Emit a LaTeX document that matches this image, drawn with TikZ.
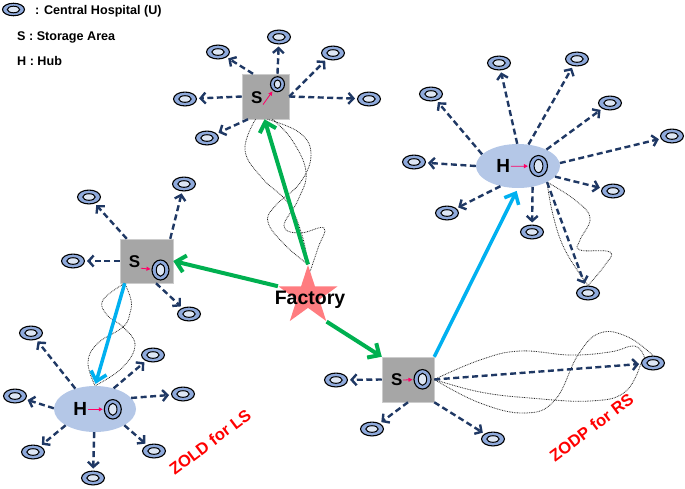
\documentclass[tikz,border=0pt]{standalone}
\usepackage{fontspec}
\setmainfont{Liberation Sans}
\usetikzlibrary{arrows.meta,shapes.geometric}
\definecolor{navy}{HTML}{1F3864}
\definecolor{hospc}{HTML}{8FAADC}
\definecolor{hospin}{HTML}{DDE6F4}
\definecolor{hubfill}{HTML}{B4C7E7}
\definecolor{boxgray}{HTML}{A6A6A6}
\definecolor{grn}{HTML}{00B050}
\definecolor{cyn}{HTML}{00B0F0}
\definecolor{pnk}{HTML}{FF0066}
\definecolor{starc}{HTML}{FF7C80}
\begin{document}
\begin{tikzpicture}[x=1pt,y=-1pt,
 hosp/.style={ellipse, draw=black, line width=1.1pt, fill=hospc, minimum width=22.9pt, minimum height=13.9pt, inner sep=0pt,
   path picture={\draw[line width=1pt, fill=hospin] (path picture bounding box.center) ellipse [x radius=6.2pt, y radius=3.3pt];}},
 uicon/.style 2 args={ellipse, draw=black, line width=1.1pt, fill=hospc, inner sep=0pt,
   path picture={\draw[line width=1pt, fill=hospin] (path picture bounding box.center) ellipse [x radius=#1, y radius=#2];}},
 sbox/.style={rectangle, fill=boxgray, draw=black!20, line width=0.5pt, inner sep=0pt},
 hub/.style={ellipse, fill=hubfill, inner sep=0pt},
 darr/.style={navy, line width=2.4pt, dash pattern=on 6pt off 3.5pt, -{Straight Barb[length=5pt,width=11pt]}, shorten >=2pt},
 garr/.style={grn, line width=4pt, -{Straight Barb[length=9pt,width=17pt]}},
 carr/.style={cyn, line width=3.5pt, -{Straight Barb[length=9pt,width=16pt]}},
 parr/.style={pnk, line width=0.8pt, -{Triangle[length=4pt,width=4pt]}, shorten >=1pt},
 dotc/.style={black!85, line width=0.8pt, dash pattern=on 0.8pt off 0.9pt},
 slbl/.style={font=\bfseries\fontsize{17}{19}\selectfont, inner sep=0.5pt},
 hlbl/.style={font=\bfseries\fontsize{19}{21}\selectfont, inner sep=0.5pt},
 legend/.style={font=\bfseries\fontsize{12.6}{15}\selectfont, inner sep=0pt},
 zone/.style={font=\bfseries\fontsize{16.5}{19}\selectfont, text=red, rotate=37},
]
\useasboundingbox (0,0) rectangle (685,488);

% legend
\node[hosp, minimum width=22pt, minimum height=12.5pt] (leg) at (13.5,9.5) {};
\node[legend, anchor=base west] (legU) at (35,14) {: Central Hospital (U)};
\node[legend, anchor=base west] (legS) at (17,40.5) {S : Storage Area};
\node[legend, anchor=base west] (legH) at (17,65.5) {H : Hub};

% main nodes
\node[sbox, minimum width=47pt, minimum height=45pt] (ts) at (265.5,96.5) {};
\node[sbox, minimum width=53pt, minimum height=44pt] (ls) at (146.5,261) {};
\node[sbox, minimum width=52pt, minimum height=45pt] (rs) at (408,379.5) {};
\node[hub, minimum width=84pt, minimum height=44pt] (rh) at (518,166) {};
\node[hub, minimum width=82pt, minimum height=46pt] (bh) at (95,409) {};
\node[star, star points=5, star point ratio=2.618, fill=starc, minimum size=62pt, inner sep=0pt] (fac) at (308,296) {};

% icons inside
\node[uicon={3.3pt}{4.2pt}, minimum width=14pt, minimum height=15pt] (tsu) at (277.5,84.2) {};
\node[uicon={4.2pt}{6.2pt}, minimum width=17pt, minimum height=20pt] (lsu) at (160.5,270) {};
\node[uicon={4.2pt}{6pt}, minimum width=17pt, minimum height=19.5pt] (rsu) at (422.5,379.3) {};
\node[uicon={4.4pt}{6.6pt}, minimum width=18pt, minimum height=21pt] (rhu) at (538.5,166) {};
\node[uicon={4.2pt}{6pt}, minimum width=17pt, minimum height=19.5pt] (bhu) at (112.8,409.3) {};
\node[slbl] (tsS) at (256.7,97.8) {S};
\node[slbl] (lsS) at (134.5,261.5) {S};
\node[slbl] (rsS) at (396.7,380) {S};
\node[hlbl] (rhH) at (503.3,166.3) {H};
\node[hlbl] (bhH) at (80.3,409.3) {H};
\draw[parr] (tsS.south east) -- (tsu);
\draw[parr] (lsS.south east) -- (lsu);
\draw[parr] (rsS.east) -- (rsu);
\draw[parr] (rhH.east) -- (rhu);
\draw[parr] (bhH.east) -- (bhu);

% hospitals
\foreach \n/\p in {T1/{(279,37)},T2/{(218,52)},T3/{(333,53)},T4/{(185,99)},T5/{(369,99)},T6/{(207,138)},
 L1/{(89,197)},L2/{(184,184)},L3/{(73,261)},L4/{(189,314)},
 B1/{(31,333)},B2/{(153,355)},B3/{(15,396)},B4/{(183,394)},B5/{(33,452)},B6/{(93,478)},B7/{(154,451)},
 R1/{(499,63)},R2/{(577,59)},R3/{(431,94)},R4/{(610,103)},R5/{(672,136)},R6/{(414,162)},R7/{(613,191)},R8/{(447,213)},R9/{(532,232)},R10/{(588,293)},
 D1/{(336,380)},D2/{(372,429)},D3/{(493,439)},D4/{(653,363)}}
 \node[hosp] (\n) at \p {};

% dotted routes
\draw[dotc] plot[smooth, tension=0.7] coordinates {([xshift=-10pt]ts.south) (245,150) (262,178) (288,203) (302,235) (fac.90)};
\draw[dotc] plot[smooth, tension=0.7] coordinates {([xshift=2pt]ts.south) (300,133) (311,155) (300,183) (276,205) (268,222) (285,245) (fac.90)};
\draw[dotc] plot[smooth, tension=0.7] coordinates {([xshift=7pt]ts.south) (292,140) (306,172) (298,200) (284,226) (300,233) (324,228) (318,248) (fac.85)};
\draw[dotc] plot[smooth, tension=0.7] coordinates {([xshift=5pt]ls.south west) (103,300) (107,315) (123,327) (135,345) (122,368) (bh.north)};
\draw[dotc] plot[smooth, tension=0.7] coordinates {([xshift=5pt]ls.south west) (131,300) (130,313) (123,327) (98,343) (88,362) (bh.north)};
\draw[dotc] plot[smooth, tension=0.7] coordinates {(rh.331) (575,200) (590,218) (580,240) (580,250) (610,252) (605,265) (R10.north)};
\draw[dotc] plot[smooth, tension=0.7] coordinates {(rh.331) (553,215) (565,250) (R10.north)};
\draw[dotc] plot[smooth, tension=0.7] coordinates {(rs.east) (480,360) (520,351) (570,355) (610,352) (635,346) (D4.north west)};
\draw[dotc] plot[smooth, tension=0.7] coordinates {(rs.east) (480,392) (530,398) (590,401) (625,392) (D4.west)};
\draw[dotc] plot[smooth, tension=0.7] coordinates {(rs.east) (480,403) (525,413) (555,400) (578,355) (600,333) (628,337) (D4.north)};

% distribution arrows
\draw[darr] ([xshift=12pt]ts.north) -- (T1);
\draw[darr] ([xshift=-12.5pt]ts.north) -- (T2);
\draw[darr] (ts.east) -- (T3);
\draw[darr] (ts.west) -- (T4);
\draw[darr] (ts.east) -- (T5);
\draw[darr] ([xshift=-17.5pt]ts.south) -- (T6);

\draw[darr] ([xshift=7pt]ls.north west) -- (L1);
\draw[darr] ([xshift=-3pt]ls.north east) -- (L2);
\draw[darr] (ls.west) -- (L3);
\draw[darr] ([xshift=9.5pt]ls.south) -- (L4);

\draw[darr] (bh.134) -- (B1);
\draw[darr] (bh.48) -- (B2);
\draw[darr] (bh.179) -- (B3);
\draw[darr] (bh.17) -- (B4);
\draw[darr] (bh.209) -- (B5);
\draw[darr] (bh.268) -- (B6);
\draw[darr] (bh.331) -- (B7);

\draw[darr] (rh.92) -- (R1);
\draw[darr] (rh.64) -- (R2);
\draw[darr] (rh.162) -- (R3);
\draw[darr] (rh.30) -- (R4);
\draw[darr] (rh.4) -- (R5);
\draw[darr] (rh.180) -- (R6);
\draw[darr] (rh.344) -- (R7);
\draw[darr] (rh.229) -- (R8);
\draw[darr] (rh.305) -- (R9);
\draw[darr] (rh.331) -- (R10);

\draw[darr] (rs.west) -- (D1);
\draw[darr] (rs.south) -- (D2);
\draw[darr] (rs.south east) -- (D3);
\draw[darr] (rs.east) -- (D4);

% main flows
\draw[garr] (fac.90) -- ([xshift=-1pt]ts.south);
\draw[garr] (fac.162) -- (ls.east);
\draw[garr] (fac.306) -- (rs.north west);
\draw[carr, shorten >=2pt] ([xshift=5pt]ls.south west) -- (bh.north);
\draw[carr, shorten >=3pt] (rs.north east) -- (rh.south);

\node[font=\bfseries\fontsize{19.5}{22}\selectfont, anchor=base, inner sep=0pt] (factxt) at (310,304) {Factory};
\node[zone] (zl) at (210,442) {ZOLD for LS};
\node[zone] (zr) at (591.5,427.5) {ZODP for RS};
\end{tikzpicture}
\end{document}
